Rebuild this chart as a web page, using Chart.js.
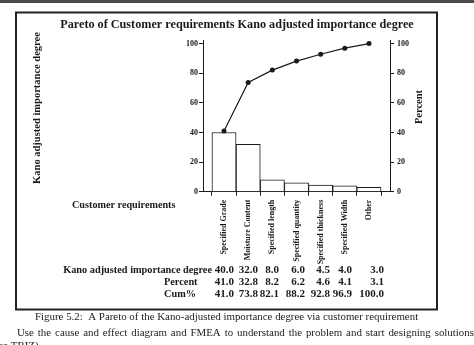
<!DOCTYPE html>
<html>
<head>
<meta charset="utf-8">
<script src="https://cdn.jsdelivr.net/npm/chart.js@4"></script>
<style>
  html, body { margin: 0; padding: 0; background: #fff; }
  canvas { display: block; }
</style>
</head>
<body>
<canvas id="pareto" width="474" height="345"></canvas>
<script>
const categories = ['Specified Grade', 'Moisture Content', 'Specified length', 'Specified quantity', 'Specified thickness', 'Specified Width', 'Other'];
const importance = [40.0, 32.0, 8.0, 6.0, 4.5, 4.0, 3.0];
const percent = [41.0, 32.8, 8.2, 6.2, 4.6, 4.1, 3.1];
const cumPercent = [41.0, 73.8, 82.1, 88.2, 92.8, 96.9, 100.0];
const yTicks = [0, 20, 40, 60, 80, 100];

const serif = '"Liberation Serif", "Times New Roman", serif';
const ink = '#1a1a1a';

// right edges of the value columns in the table under the plot
const tableCols = [234, 258, 279, 305, 330, 352, 384];

// draw text stretched over a given width by widening the word gaps
function justify(ctx, text, x, y, width) {
  const gaps = text.split(' ').length - 1;
  const extra = Math.max(0, width - ctx.measureText(text).width);
  ctx.wordSpacing = (gaps ? extra / gaps : 0) + 'px';
  ctx.fillText(text, x, y);
  ctx.wordSpacing = '0px';
}

const decorations = {
  id: 'decorations',
  beforeDraw(chart) {
    const ctx = chart.ctx;
    ctx.save();
    ctx.fillStyle = '#fff';
    ctx.fillRect(0, 0, chart.width, chart.height);
    ctx.fillStyle = '#4a4a4a';
    ctx.fillRect(0, 0, chart.width, 3);
    ctx.restore();
  },
  afterDraw(chart) {
    const ctx = chart.ctx;
    ctx.save();
    // box round the whole figure
    ctx.strokeStyle = '#222';
    ctx.lineWidth = 2;
    ctx.strokeRect(16, 12.5, 421, 297);

    ctx.fillStyle = ink;
    ctx.font = 'bold 10.5px ' + serif;
    ctx.textAlign = 'center';
    ctx.textBaseline = 'middle';
    ctx.save();
    ctx.translate(37, 108);
    ctx.rotate(-Math.PI / 2);
    ctx.fillText('Kano adjusted importance degree', 0, 0);
    ctx.restore();
    ctx.save();
    ctx.translate(419, 107);
    ctx.rotate(-Math.PI / 2);
    ctx.fillText('Percent', 0, 0);
    ctx.restore();

    ctx.font = 'bold 10.2px ' + serif;
    ctx.textAlign = 'left';
    ctx.fillText('Customer requirements', 72, 205);

    // summary table
    const rows = [
      ['Kano adjusted importance degree', importance, 'right', 212],
      ['Percent', percent, 'left', 164],
      ['Cum%', cumPercent, 'left', 164]
    ];
    rows.forEach(([label, vals, align, x], r) => {
      const y = 270 + r * 12;
      ctx.font = 'bold 10.3px ' + serif;
      ctx.textAlign = align;
      ctx.fillText(label, x, y);
      ctx.font = 'bold 11px ' + serif;
      ctx.textAlign = 'right';
      vals.forEach((v, i) => ctx.fillText(v.toFixed(1), tableCols[i], y));
    });

    // caption and running text below
    ctx.fillStyle = '#222';
    ctx.font = '10.9px ' + serif;
    ctx.textAlign = 'left';
    ctx.fillText('Figure 5.2:  A Pareto of the Kano-adjusted importance degree via customer requirement', 35, 317);
    justify(ctx, 'Use the cause and effect diagram and FMEA to understand the problem and start designing solutions', 17, 333, 457);
    ctx.textBaseline = 'top';
    ctx.fillText('se TRIZ)', -1, 341);
    ctx.restore();
  }
};

const tickFont = { family: serif, size: 8, weight: 'bold' };

new Chart(document.getElementById('pareto'), {
  data: {
    datasets: [
      {
        type: 'line',
        label: 'Cum%',
        data: categories.map((c, i) => ({ x: i, y: cumPercent[i] })),
        yAxisID: 'y2',
        borderColor: ink,
        borderWidth: 1.2,
        pointRadius: 2.5,
        pointBackgroundColor: ink,
        pointBorderWidth: 0,
        order: 0
      },
      {
        type: 'bar',
        label: 'Kano adjusted importance degree',
        data: categories.map((c, i) => ({ x: i, y: importance[i] })),
        yAxisID: 'y',
        backgroundColor: '#fff',
        borderColor: ink,
        borderWidth: 1,
        barPercentage: 1,
        categoryPercentage: 1,
        order: 1
      }
    ]
  },
  options: {
    responsive: false,
    animation: false,
    layout: { padding: 0 },
    plugins: {
      legend: { display: false },
      tooltip: { enabled: false },
      title: {
        display: true,
        text: 'Pareto of Customer requirements Kano adjusted importance degree',
        font: { family: serif, size: 12.2, weight: 'bold' },
        color: ink,
        padding: { top: 18, bottom: 8 }
      }
    },
    scales: {
      x: {
        type: 'linear',
        offset: false,
        min: -0.87,
        max: 6.87,
        afterBuildTicks: s => { s.ticks = categories.map((c, i) => ({ value: i })); },
        afterFit: s => { s.height = 345 - 191.7; },
        ticks: {
          autoSkip: false,
          minRotation: 90,
          maxRotation: 90,
          padding: 4,
          color: ink,
          font: tickFont,
          callback: v => categories[v]
        },
        grid: { drawOnChartArea: false, tickLength: 4, color: ink },
        border: { color: ink, width: 1 }
      },
      y: {
        position: 'left',
        min: 0,
        max: 102,
        afterBuildTicks: s => { s.ticks = yTicks.map(v => ({ value: v })); },
        afterFit: s => { s.width = 203; },
        ticks: { padding: 1, color: ink, font: tickFont },
        grid: { drawOnChartArea: false, tickLength: 4, color: ink },
        border: { color: ink, width: 1 }
      },
      y2: {
        position: 'right',
        min: 0,
        max: 102,
        afterBuildTicks: s => { s.ticks = yTicks.map(v => ({ value: v })); },
        afterFit: s => { s.width = 84; },
        ticks: { padding: 3, color: ink, font: tickFont },
        grid: { drawOnChartArea: false, tickLength: 4, color: ink },
        border: { color: ink, width: 1 }
      }
    }
  },
  plugins: [decorations]
});
</script>
</body>
</html>
